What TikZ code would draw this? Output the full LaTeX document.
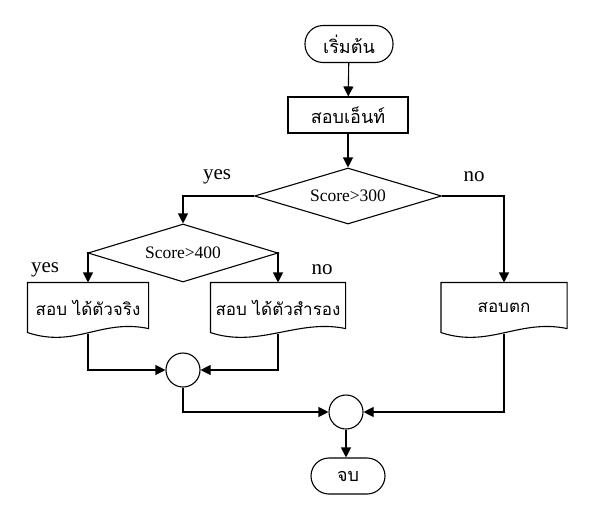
\documentclass[tikz,border=0pt]{standalone}
\usepackage{fontspec}
\setmainfont{Liberation Serif}
\newfontfamily\thai[Script=Thai]{Loma}
\usetikzlibrary{shapes.geometric,arrows.meta}

\begin{document}
\begin{tikzpicture}[x=1pt, y=-1pt, line width=1.1pt,
    term/.style={draw, rounded corners=18pt, minimum height=37pt, font=\thai\fontsize{18}{20}\selectfont},
    proc/.style={draw, minimum width=120pt, minimum height=36pt, font=\thai\fontsize{18}{20}\selectfont},
    cond/.style={draw, diamond, aspect=3.3, inner sep=0pt, font=\fontsize{17.5}{20}\selectfont},
    doc/.style={minimum height=50pt, inner sep=0pt, font=\thai\fontsize{17}{20}\selectfont},
    joint/.style={draw, circle, minimum size=34pt, inner sep=0pt},
    lbl/.style={font=\fontsize{21}{24}\selectfont},
    arr/.style={-{Triangle[length=10pt,width=10pt]}}]
    \useasboundingbox (0,0) rectangle (596,520);

    % Top
    \node[term, minimum width=88pt] (start) at (349,44) {เริ่มต้น};
    \node[proc] (entr) at (348,115) {สอบเอ็นท์};

    % Decisions
    \node[cond, minimum width=187pt, minimum height=56pt] (d1) at (348,196) {Score>300};
    \node[cond, minimum width=190pt, minimum height=58pt] (d2) at (183,253) {Score>400};

    % Results
    \node[doc, minimum width=120pt] (real) at (88,308) {สอบ ได้ตัวจริง};
    \node[doc, minimum width=134pt] (spare) at (278,308) {สอบ ได้ตัวสำรอง};
    \node[doc, minimum width=125pt] (fail) at (504,308) {สอบตก};
    \foreach \n in {real,spare,fail}
        \draw (\n.north west) -- (\n.north east) -- ([yshift=5pt]\n.south east)
            .. controls ([xshift=-48pt,yshift=15pt]\n.south east) and ([xshift=48pt,yshift=-15pt]\n.south west)
            .. ([yshift=1pt]\n.south west) -- cycle;

    % Joins and end
    \node[joint] (j1) at (183,370) {};
    \node[joint] (j2) at (346,412) {};
    \node[term, minimum width=74pt, minimum height=36pt] (stop) at (348,476) {จบ};

    % Labels
    \node[lbl] (yes1) at (217,177) {yes};
    \node[lbl] (no1) at (474,177) {no};
    \node[lbl] (yes2) at (45,270) {yes};
    \node[lbl] (no2) at (322,270) {no};

    \draw[arr] (start) -- (entr);
    \draw[arr] (entr) -- (d1);
    \draw[arr] (d1.west) -| (d2.north);
    \draw[arr] (d1.east) -| (fail.north);
    \draw[arr] (d2.west) -| (real.north);
    \draw[arr] (d2.east) -| (spare.north);
    \draw[arr] (real.south) |- (j1.west);
    \draw[arr] (spare.south) |- (j1.east);
    \draw[arr] (j1.south) |- (j2.west);
    \draw[arr] (fail.south) |- (j2.east);
    \draw[arr] (j2.south) -- (j2.south |- stop.north);
\end{tikzpicture}
\end{document}
